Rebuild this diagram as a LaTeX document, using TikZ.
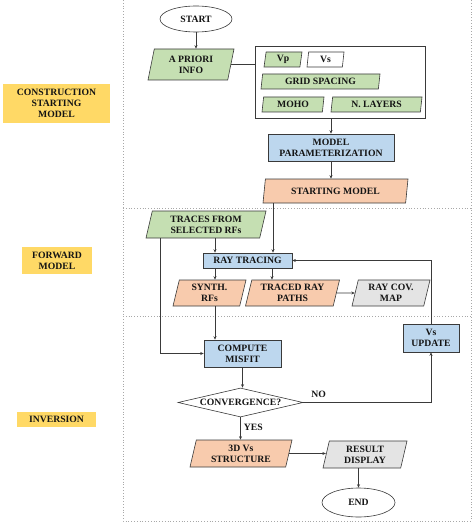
\documentclass[tikz,border=0pt]{standalone}
\usepackage{fontspec}
\setmainfont{Liberation Serif}
\usetikzlibrary{shapes.geometric,arrows.meta}
\definecolor{cgreen}{HTML}{C5DFB2}
\definecolor{cblue}{HTML}{BDD7EE}
\definecolor{corange}{HTML}{F8CBAD}
\definecolor{cgray}{HTML}{E4E4E4}
\definecolor{cyellow}{HTML}{FFD966}
\definecolor{cline}{HTML}{3A3A3A}
\definecolor{cdot}{HTML}{A8A8A8}
\begin{document}
\begin{tikzpicture}[x=1pt,y=-1pt,
  every node/.style={font=\fontsize{9.7}{10.8}\selectfont\bfseries, align=center, inner sep=0pt, text=black!92},
  base/.style={draw=cline, line width=0.6pt},
  para/.style={base, trapezium, trapezium left angle=70, trapezium right angle=110, trapezium stretches body=true},
  spara/.style={para, trapezium left angle=76, trapezium right angle=104},
  procbox/.style={base, rectangle, fill=cblue},
  termin/.style={base, ellipse, fill=white},
  sectlabel/.style={rectangle, fill=cyellow},
  arr/.style={draw=cline, line width=0.6pt, -{Stealth[length=3.5pt,width=3pt]}},
  conn/.style={draw=cline, line width=0.6pt},
  sep/.style={draw=cdot, line width=0.8pt, dotted}
]
\useasboundingbox (0,0) rectangle (474,524);
% frame
\draw[sep] (123,0) -- (123,521) -- (471,521) -- (471,0);
\draw[sep] (123,208) -- (471,208);
\draw[sep] (123,316) -- (471,316);
% section labels
\node[sectlabel, minimum width=107, minimum height=39] (lab1) at (56.5,103.5) {CONSTRUCTION\\STARTING\\MODEL};
\node[sectlabel, minimum width=70, minimum height=27] (lab2) at (57,260.5) {FORWARD\\MODEL};
\node[sectlabel, minimum width=79, minimum height=15] (lab3) at (56.5,419.5) {INVERSION};
% nodes
\node[termin, minimum width=72, minimum height=26] (start) at (196,19) {START};
\node[para, fill=cgreen, minimum width=86, minimum height=31] (api) at (191,64.5) {A PRIORI\\INFO};
\node[base, rectangle, fill=white, minimum width=170, minimum height=72] (box) at (340,82) {};
\node[spara, fill=cgreen, minimum width=38, minimum height=15] (vp) at (283,59.5) {Vp};
\node[spara, fill=white, minimum width=37, minimum height=15] (vs) at (325.5,59.5) {Vs};
\node[spara, fill=cgreen, minimum width=119, minimum height=15] (grid) at (320.5,81.5) {GRID SPACING};
\node[spara, fill=cgreen, minimum width=62, minimum height=15] (moho) at (293,104.5) {MOHO};
\node[spara, fill=cgreen, minimum width=91, minimum height=15] (nl) at (376.5,104.5) {N. LAYERS};
\node[procbox, minimum width=126, minimum height=27] (mp) at (331,147.5) {MODEL\\PARAMETERIZATION};
\node[para, fill=corange, minimum width=145, minimum height=24] (sm) at (335.5,191) {STARTING MODEL};
\node[para, fill=cgreen, minimum width=120, minimum height=27] (tr) at (206,224.5) {TRACES FROM\\SELECTED RFs};
\node[procbox, minimum width=89, minimum height=15] (rt) at (247.5,260.5) {RAY TRACING};
\node[para, fill=corange, minimum width=73, minimum height=26] (syn) at (209.5,293) {SYNTH.\\RFs};
\node[para, fill=corange, minimum width=94, minimum height=26] (trp) at (292.5,293) {TRACED RAY\\PATHS};
\node[para, fill=cgray, minimum width=78, minimum height=26] (rcm) at (391,293) {RAY COV.\\MAP};
\node[procbox, minimum width=56, minimum height=28] (vsu) at (431,338) {Vs\\UPDATE};
\node[procbox, minimum width=77, minimum height=27] (cm) at (242.5,353.5) {COMPUTE\\MISFIT};
\node[base, diamond, fill=white, aspect=4.3, minimum width=125, minimum height=29] (conv) at (240.5,402.5) {CONVERGENCE?};
\node[para, fill=corange, minimum width=102, minimum height=27] (vs3d) at (241,453.5) {3D Vs\\STRUCTURE};
\node[para, fill=cgray, minimum width=84, minimum height=27] (res) at (365,454.5) {RESULT\\DISPLAY};
\node[termin, minimum width=73, minimum height=29] (end) at (358.5,502.5) {END};
% connectors
\draw[arr] (start.south) -- (start.south |- api.north);
\draw[conn] (api.east) -- (api.east -| box.west);
\draw[arr] (mp.north |- box.south) -- (mp.north);
\draw[arr] (mp.south) -- (mp.south |- sm.north);
\draw[arr] ([xshift=25.5]rt.north |- sm.south) -- ([xshift=25.5]rt.north);
\draw[arr] ([xshift=-32.5]rt.north |- tr.south) -- ([xshift=-32.5]rt.north);
\draw[arr] ([xshift=-46]tr.south) |- (cm.west);
\draw[arr] ([xshift=-32.5]rt.south) -- ([xshift=-32.5]rt.south |- syn.north);
\draw[arr] ([xshift=24.5]rt.south) -- ([xshift=24.5]rt.south |- trp.north);
\draw[arr] (trp.east) -- (rcm.west);
\draw[arr] ([xshift=-27.5]cm.north |- syn.south) -- ([xshift=-27.5]cm.north);
\draw[arr] (vsu.north) |- (rt.east);
\draw[arr] (cm.south) -- (cm.south |- conv.north);
\draw[arr] (conv.east) -| node[pos=0.06, above=5pt] (nolab) {NO} (vsu.south);
\draw[arr] (conv.south) -- node[pos=0.45, right=3pt] (yeslab) {YES} (conv.south |- vs3d.north);
\draw[arr] (vs3d.east) -- (vs3d.east -| res.west);
\draw[arr] (end.north |- res.south) -- (end.north);
\end{tikzpicture}
\end{document}
